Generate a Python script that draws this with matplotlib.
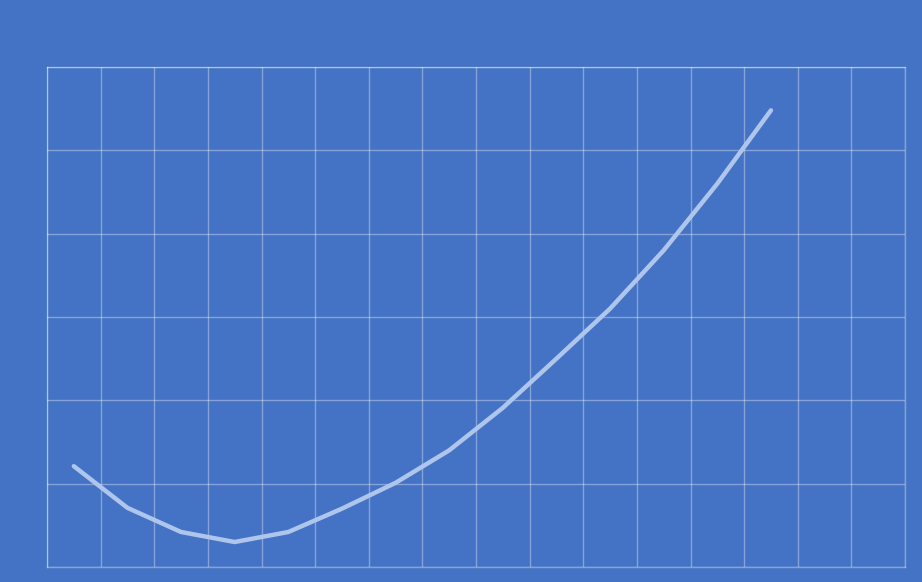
import matplotlib
matplotlib.use('Agg')
import matplotlib.pyplot as plt

# category positions (line points sit in the middle of each grid column)
categories = list(range(14))
values = [1.21, 0.71, 0.42, 0.30, 0.42, 0.70, 1.01, 1.40, 1.91, 2.50, 3.10, 3.80, 4.60, 5.48]
n_columns = 16
n_rows = 6

bg = '#4472C4'

fig = plt.figure(figsize=(9.22, 5.82), dpi=100)
fig.patch.set_facecolor(bg)
ax = fig.add_axes([47 / 922, 15 / 582, 858 / 922, 500 / 582])
ax.set_facecolor(bg)

x = [c + 0.5 for c in categories]
ax.plot(x, values, color='#AFC6EC', linewidth=3.2, solid_capstyle='round', zorder=3)

ax.set_xlim(0, n_columns)
ax.set_ylim(0, n_rows)
ax.set_xticks(range(n_columns + 1))
ax.set_yticks(range(n_rows + 1))
ax.grid(True, color='white', alpha=0.35, linewidth=1.0)
ax.tick_params(length=0, labelbottom=False, labelleft=False)
for s in ax.spines.values():
    s.set_color((1, 1, 1, 0.35))
    s.set_linewidth(1.0)

fig.savefig('out.png', dpi=100, facecolor=bg)
